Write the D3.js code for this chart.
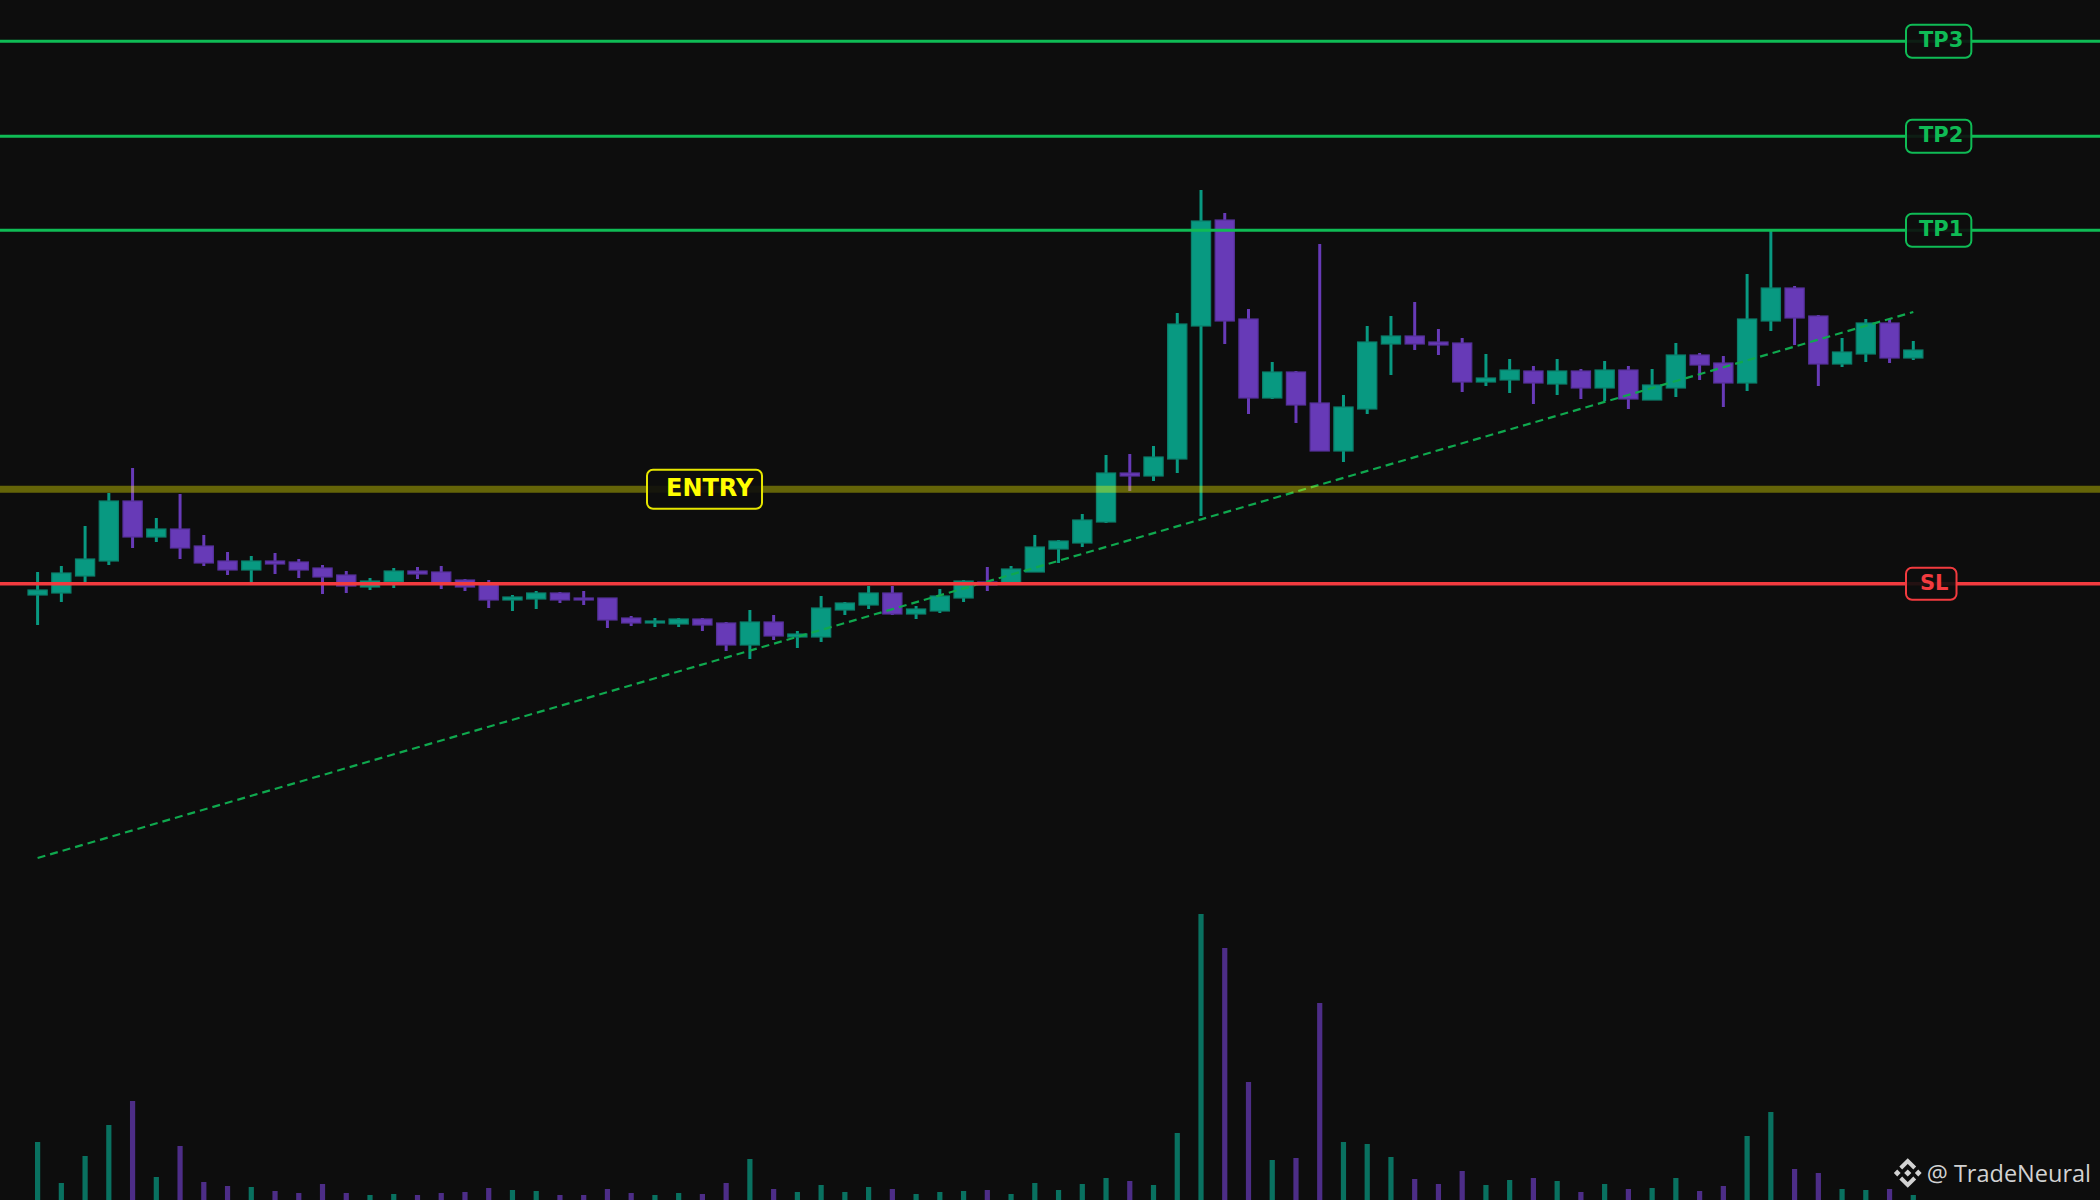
<!DOCTYPE html>
<html><head><meta charset="utf-8">
<script src="https://cdn.jsdelivr.net/npm/d3@7"></script>
<style>html,body{margin:0;padding:0;background:#0d0d0d;overflow:hidden}</style>
</head><body><svg id="c" width="2100" height="1200"></svg>
<script>
const opens = [0.605,0.607,0.624,0.639,0.699,0.663,0.671,0.654,0.639,0.630,
0.639,0.638,0.632,0.625,0.613,0.618,0.629,0.628,0.620,0.617,
0.600,0.601,0.607,0.602,0.602,0.582,0.577,0.576,0.581,0.577,
0.555,0.578,0.563,0.563,0.590,0.595,0.607,0.586,0.589,0.602,
0.618,0.617,0.628,0.651,0.657,0.678,0.727,0.724,0.741,0.874,
0.980,0.881,0.802,0.828,0.797,0.749,0.791,0.856,0.864,0.858,
0.857,0.818,0.820,0.829,0.816,0.829,0.812,0.830,0.800,0.812,
0.845,0.837,0.817,0.879,0.912,0.884,0.836,0.846,0.877,0.842];
const highs = [0.628,0.634,0.674,0.707,0.732,0.682,0.706,0.665,0.648,0.644,
0.647,0.641,0.635,0.629,0.622,0.632,0.633,0.634,0.621,0.620,
0.605,0.609,0.608,0.609,0.602,0.584,0.582,0.582,0.582,0.578,
0.590,0.585,0.569,0.604,0.598,0.614,0.614,0.594,0.611,0.620,
0.633,0.634,0.665,0.660,0.686,0.745,0.746,0.754,0.887,1.010,
0.987,0.891,0.838,0.829,0.956,0.805,0.874,0.884,0.898,0.871,
0.862,0.846,0.841,0.834,0.841,0.831,0.839,0.834,0.831,0.857,
0.847,0.844,0.926,0.970,0.914,0.885,0.862,0.881,0.881,0.859];
const lows = [0.575,0.598,0.618,0.635,0.652,0.658,0.641,0.634,0.625,0.618,
0.626,0.622,0.606,0.607,0.610,0.612,0.621,0.611,0.609,0.592,
0.589,0.591,0.597,0.595,0.572,0.574,0.573,0.573,0.569,0.549,
0.541,0.560,0.552,0.558,0.585,0.591,0.585,0.581,0.587,0.598,
0.609,0.617,0.628,0.637,0.653,0.677,0.709,0.719,0.727,0.684,
0.856,0.786,0.801,0.777,0.749,0.738,0.786,0.825,0.850,0.845,
0.808,0.814,0.807,0.796,0.805,0.801,0.799,0.791,0.800,0.803,
0.820,0.793,0.809,0.869,0.855,0.814,0.833,0.838,0.837,0.840];
const closes = [0.610,0.627,0.641,0.699,0.663,0.671,0.652,0.637,0.630,0.639,
0.636,0.630,0.623,0.614,0.619,0.629,0.626,0.617,0.613,0.600,
0.603,0.607,0.600,0.600,0.580,0.577,0.579,0.581,0.575,0.555,
0.578,0.564,0.566,0.592,0.597,0.607,0.586,0.591,0.604,0.619,
0.615,0.631,0.653,0.659,0.680,0.727,0.724,0.743,0.876,0.979,
0.879,0.802,0.828,0.795,0.749,0.793,0.858,0.864,0.856,0.855,
0.818,0.822,0.830,0.817,0.829,0.812,0.830,0.801,0.815,0.845,
0.835,0.817,0.881,0.912,0.882,0.836,0.848,0.877,0.842,0.850];
const volumes = [58,17,44,75,99,23,54,18,14,13,
9,7,16,7,5,6,5,7,8,12,
10,9,5,5,11,7,5,7,6,17,
41,11,8,15,8,13,11,6,8,9,
10,6,17,10,16,22,19,15,67,286,
252,118,40,42,197,58,56,43,21,16,
29,15,20,22,19,8,16,11,12,22,
9,14,64,88,31,27,11,10,11,5];
const levelNames = ["TP3","TP2","TP1","ENTRY","SL"];
const levelPrices = [1.1587,1.0637,0.9697,0.7107,0.6163];
const trendIdx = [0,79];
const trendPrices = [0.342,0.888];
const watermark = "@ TradeNeural";

const W = 2100, H = 1200;
const UP = "#089981", DOWN = "#673ab7";
const UP_EDGE = "#0a7f6b", DOWN_EDGE = "#55309a";
const svg = d3.select("#c");
svg.append("rect").attr("width", W).attr("height", H).attr("fill", "#0d0d0d");

const x = d3.scaleLinear().domain([0, opens.length - 1]).range([37.6, 1913.3]);
const y = d3.scaleLinear().domain([0, 1.2]).range([H, 0]);
const yv = d3.scaleLinear().domain([0, 286]).range([H, 914]);

const data = opens.map((o, i) => ({i, o, h: highs[i], l: lows[i], c: closes[i], v: volumes[i], up: closes[i] >= o}));

// volume
svg.append("g").selectAll("rect").data(data).join("rect")
  .attr("x", d => x(d.i) - 2.6).attr("width", 5.2)
  .attr("y", d => yv(d.v)).attr("height", d => H - yv(d.v))
  .attr("fill", d => d.up ? UP : DOWN).attr("opacity", 0.72);

// wicks
const cg = svg.append("g");
cg.selectAll("line").data(data).join("line")
  .attr("x1", d => x(d.i)).attr("x2", d => x(d.i))
  .attr("y1", d => y(d.h)).attr("y2", d => y(d.l))
  .attr("stroke", d => d.up ? UP : DOWN).attr("stroke-width", 3);
// bodies
cg.selectAll("rect").data(data).join("rect")
  .attr("x", d => x(d.i) - 9.6).attr("width", 19.2)
  .attr("y", d => y(Math.max(d.o, d.c)))
  .attr("height", d => Math.max(2, Math.abs(y(d.o) - y(d.c))))
  .attr("fill", d => d.up ? UP : DOWN)
  .attr("stroke", d => d.up ? UP_EDGE : DOWN_EDGE).attr("stroke-width", 1.2);

// trend line
svg.append("path")
  .datum(trendIdx.map((t, k) => [t, trendPrices[k]]))
  .attr("d", d3.line().x(d => x(d[0])).y(d => y(d[1])))
  .attr("fill", "none").attr("stroke", "#0fa84e").attr("stroke-width", 2.2)
  .attr("stroke-dasharray", "8,5");

const styles = {
  TP3: {color: "#0fbb55", text: "#0fbb55", fs: 21, bx: 1906, padL: 13, padR: 8, bh: 33, lw: 3, op: 1},
  TP2: {color: "#0fbb55", text: "#0fbb55", fs: 21, bx: 1906, padL: 13, padR: 8, bh: 33, lw: 3, op: 1},
  TP1: {color: "#0fbb55", text: "#0fbb55", fs: 21, bx: 1906, padL: 13, padR: 8, bh: 33, lw: 3, op: 1},
  ENTRY: {color: "#e6e600", text: "#ffff00", fs: 24, bx: 647, padL: 19, padR: 8, bh: 39, lw: 7, op: 0.36, lineColor: "#ffff00"},
  SL: {color: "#f23b3f", text: "#f23b3f", fs: 21, bx: 1906, padL: 14, padR: 8, bh: 32, lw: 3.6, op: 1}
};

const lg = svg.append("g");
levelNames.forEach((n, k) => {
  const s = styles[n];
  lg.append("line").attr("x1", 0).attr("x2", W)
    .attr("y1", y(levelPrices[k])).attr("y2", y(levelPrices[k]))
    .attr("stroke", s.lineColor || s.color).attr("stroke-width", s.lw).attr("stroke-opacity", s.op);
});
levelNames.forEach((n, k) => {
  const s = styles[n];
  const ly = y(levelPrices[k]);
  const g = svg.append("g");
  const box = g.append("rect");
  const t = g.append("text").text(n)
    .attr("x", s.bx + s.padL).attr("y", ly + s.fs * 0.29)
    .attr("fill", s.text).attr("font-family", "DejaVu Sans").attr("font-weight", "bold")
    .attr("font-size", s.fs);
  const bb = t.node().getBBox();
  box.attr("x", s.bx).attr("y", ly - s.bh / 2)
    .attr("width", bb.width + s.padL + s.padR).attr("height", s.bh)
    .attr("rx", 6).attr("fill", "#0d0d0d").attr("fill-opacity", 0.9)
    .attr("stroke", s.color).attr("stroke-width", 2);
});

// watermark
const wm = svg.append("g");
const wt = wm.append("text").text(watermark).attr("x", 2091).attr("y", 1182)
  .attr("text-anchor", "end").attr("font-family", "Open Sans").attr("font-size", 23.5)
  .attr("fill", "#d2d2d2");
const wb = wt.node().getBBox();
const cx = wb.x - 19, cy = 1173;
const lgm = wm.append("g").attr("transform", `translate(${cx},${cy})`).attr("fill", "#d2d2d2");
const dia = (dx, dy, r) => `M${dx},${dy - r}L${dx + r},${dy}L${dx},${dy + r}L${dx - r},${dy}Z`;
lgm.append("path").attr("d", dia(0, 0, 3.6) + dia(-10.5, 0, 3.4) + dia(10.5, 0, 3.4));
lgm.append("path").attr("d", "M-7,-5L0,-12L7,-5").attr("fill", "none").attr("stroke", "#d2d2d2").attr("stroke-width", 4);
lgm.append("path").attr("d", "M-7,5L0,12L7,5").attr("fill", "none").attr("stroke", "#d2d2d2").attr("stroke-width", 4);
</script></body></html>
